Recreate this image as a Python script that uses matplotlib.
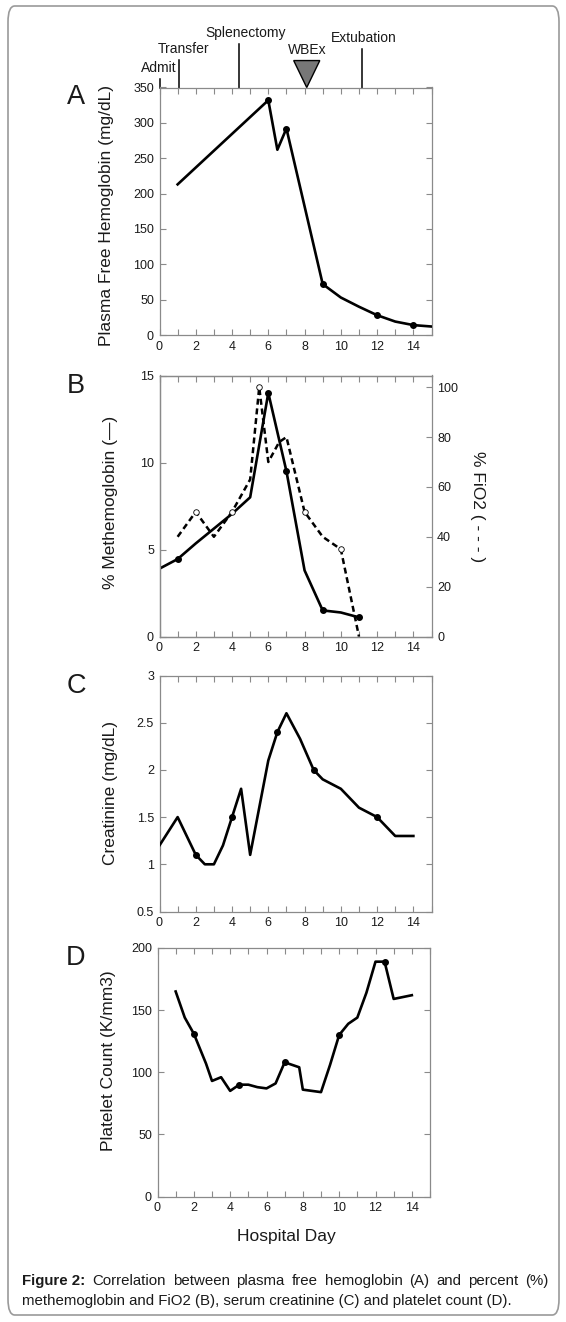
import numpy as np
import matplotlib
matplotlib.use('Agg')
import matplotlib.pyplot as plt
from matplotlib.patches import FancyBboxPatch, Polygon
from matplotlib.ticker import MultipleLocator

plt.rcParams['font.family'] = ['Liberation Sans', 'DejaVu Sans']

W, H = 566, 1322

# events along the top of panel A
event_names = ['Admit', 'Transfer', 'Splenectomy', 'WBEx', 'Extubation']
event_days = [0.05, 1.05, 4.37, 8.12, 11.18]

# A: plasma free hemoglobin (mg/dL)
hb_day = [1, 6, 6.5, 7, 9, 10, 11, 12, 13, 14, 15]
hb_val = [213, 332, 262, 292, 72, 53, 40, 28, 19, 14, 12]
hb_marks = [6, 7, 9, 12, 14]

# B: methemoglobin (%) and FiO2 (%)
met_day = [0, 1, 2, 3, 4, 5, 6, 7, 8, 9, 10, 11]
met_val = [3.9, 4.45, 5.35, 6.2, 7.05, 8.0, 14.0, 9.5, 3.8, 1.5, 1.38, 1.1]
met_marks = [1, 6, 7, 9, 11]
fio2_day = [1, 2, 3, 4, 5, 5.5, 6, 6.6, 7, 8, 9, 10, 11]
fio2_val = [40, 50, 40, 50, 63, 100, 70, 78, 80, 50, 40, 35, 0]
fio2_marks = [2, 4, 5.5, 8, 10]

# C: creatinine (mg/dL)
cr_day = [0, 1, 2, 2.5, 3, 3.5, 4, 4.5, 5, 5.5, 6, 6.5, 7, 7.75, 8.5, 9, 10, 11, 12, 13, 14]
cr_val = [1.2, 1.5, 1.1, 1.0, 1.0, 1.2, 1.5, 1.8, 1.1, 1.6, 2.1, 2.4, 2.6, 2.33, 2.0, 1.9, 1.8, 1.6, 1.5, 1.3, 1.3]
cr_marks = [2, 4, 6.5, 8.5, 12]

# D: platelet count (K/mm3)
pl_day = [1, 1.5, 2, 2.67, 3, 3.5, 4, 4.5, 5, 5.5, 6, 6.5, 7, 7.8, 8, 9, 9.5, 10, 10.5, 11, 11.5, 12, 12.5, 13, 14]
pl_val = [165, 144, 131, 107, 93, 96, 85, 90, 90, 88, 87, 91, 108, 104, 86, 84, 106, 130, 139, 144, 164, 189, 189, 159, 162]
pl_marks = [2, 4.5, 7, 10, 12.5]

caption_bold = 'Figure 2:'
caption_1 = 'Correlation between plasma free hemoglobin (A) and percent (%)'
caption_2 = 'methemoglobin and FiO2 (B), serum creatinine (C) and platelet count (D).'

SPINE = '#8a8a8a'
TXT = '#1a1a1a'


def box(l, t, r, b):
    return [l / W, 1 - b / H, (r - l) / W, (b - t) / H]


def fx(x):
    return x / W


def fy(y):
    return 1 - y / H


def style(ax, ylim, ystep, xlim=(0, 15)):
    ax.set_xlim(*xlim)
    ax.set_ylim(*ylim)
    ax.xaxis.set_major_locator(MultipleLocator(2))
    ax.xaxis.set_minor_locator(MultipleLocator(1))
    ax.yaxis.set_major_locator(MultipleLocator(ystep))
    ax.set_xticks([0, 2, 4, 6, 8, 10, 12, 14])
    for s in ax.spines.values():
        s.set_color(SPINE)
        s.set_linewidth(0.9)
    ax.tick_params(which='both', direction='in', top=True, right=True,
                   length=4, width=0.8, color=SPINE, labelsize=9,
                   labelcolor=TXT, pad=4)


def marked(ax, days, vals, marks):
    ax.plot(days, vals, color='black', lw=1.9, solid_joinstyle='round', zorder=3)
    md = [d for d in days if d in marks]
    mv = [v for d, v in zip(days, vals) if d in marks]
    ax.plot(md, mv, 'o', color='black', ms=4.0, zorder=4)


fig = plt.figure(figsize=(W / 100, H / 100), dpi=100)

frame = FancyBboxPatch((fx(8), fy(1315)), fx(551), 1309 / H,
                       boxstyle='round,pad=0,rounding_size=0.012',
                       transform=fig.transFigure, fc='none', ec='#9a9a9a', lw=1.2)
fig.patches.append(frame)

# ---------------- A
axA = fig.add_axes(box(159.5, 87.5, 431.5, 335))
style(axA, (0, 350), 50)
marked(axA, hb_day, hb_val, hb_marks)
axh = 248.0
tr = axA.get_xaxis_transform()
line_px = [9, 28, 44, None, 39]
text_shift = [-2, 5, 7, 1, 2]   # px, label centre relative to its marker
for name, d, lp, sh in zip(event_names, event_days, line_px, text_shift):
    dx = sh * 15 / 272.0
    if lp is None:
        half = 0.72
        tri = Polygon([[d, 1.0], [d - half, 1 + 27 / axh], [d + half, 1 + 27 / axh]],
                      closed=True, transform=tr, clip_on=False,
                      fc='#777777', ec='black', lw=1.0, zorder=5)
        axA.add_patch(tri)
        axA.text(d + dx, 1 + 31 / axh, name, transform=tr, ha='center', va='bottom',
                 fontsize=10, color=TXT)
    else:
        axA.plot([d, d], [1, 1 + lp / axh], transform=tr, clip_on=False,
                 color='black', lw=1.1)
        axA.text(d + dx, 1 + (lp + 4) / axh, name, transform=tr, ha='center',
                 va='bottom', fontsize=10, color=TXT)

# ---------------- B
axB = fig.add_axes(box(159.5, 375.5, 431.5, 636.5))
style(axB, (0, 15), 5)
axB.tick_params(right=False)
axB.spines['right'].set_visible(False)
axB2 = axB.twinx()
axB2.set_ylim(0, 104.7)
axB2.yaxis.set_major_locator(MultipleLocator(20))
for s in axB2.spines.values():
    s.set_color(SPINE)
    s.set_linewidth(0.9)
axB2.tick_params(direction='in', length=4, width=0.8, color=SPINE,
                 labelsize=9, labelcolor=TXT, pad=4)
marked(axB, met_day, met_val, met_marks)
axB2.plot(fio2_day, fio2_val, color='black', lw=1.8, dashes=(2.4, 1.5), zorder=3)
fm_d = [d for d in fio2_day if d in fio2_marks]
fm_v = [v for d, v in zip(fio2_day, fio2_val) if d in fio2_marks]
axB2.plot(fm_d, fm_v, 'o', mfc='white', mec='black', mew=0.6, ms=4.0, zorder=4)

# ---------------- C
axC = fig.add_axes(box(159.5, 675.5, 431.5, 911.5))
style(axC, (0.5, 3), 0.5)
axC.set_yticks([0.5, 1, 1.5, 2, 2.5, 3])
axC.set_yticklabels(['0.5', '1', '1.5', '2', '2.5', '3'])
marked(axC, cr_day, cr_val, cr_marks)

# ---------------- D
axD = fig.add_axes(box(157.5, 948, 430, 1196.5))
style(axD, (0, 200), 50)
marked(axD, pl_day, pl_val, pl_marks)

# labels
lab = dict(fontsize=12.5, color=TXT, ha='center', va='center')
fig.text(fx(107), fy(216), 'Plasma Free Hemoglobin (mg/dL)', rotation=90, **lab)
fig.text(fx(110), fy(502), '% Methemoglobin (\u2014)', rotation=90, **lab)
fig.text(fx(477), fy(507), '% FiO2 ( - - - )', rotation=270, **lab)
fig.text(fx(110), fy(793), 'Creatinine (mg/dL)', rotation=90, **lab)
fig.text(fx(109), fy(1061), 'Platelet Count (K/mm3)', rotation=90, **lab)
fig.text(fx(286), fy(1236), 'Hospital Day', **lab)

for letter, y in zip('ABCD', [97, 386, 686, 958]):
    fig.text(fx(76), fy(y), letter, fontsize=19.5, color=TXT, ha='center', va='center')

# caption, first line justified between the frame margins
cap = dict(fontsize=10.85, color=TXT, va='baseline')
fig.canvas.draw()
rend = fig.canvas.get_renderer()
words = [(caption_bold, 'bold')] + [(w, 'normal') for w in caption_1.split()]
texts = [fig.text(0, fy(1285), w, fontweight=fw, **cap) for w, fw in words]
widths = [t.get_window_extent(rend).width for t in texts]
x_left, x_right = 22, 549
gap = (x_right - x_left - sum(widths)) / (len(words) - 1)
x = x_left
for t, w in zip(texts, widths):
    t.set_x(fx(x))
    x += w + gap
fig.text(fx(22), fy(1305), caption_2, **cap)

fig.savefig('out.png', dpi=100)
